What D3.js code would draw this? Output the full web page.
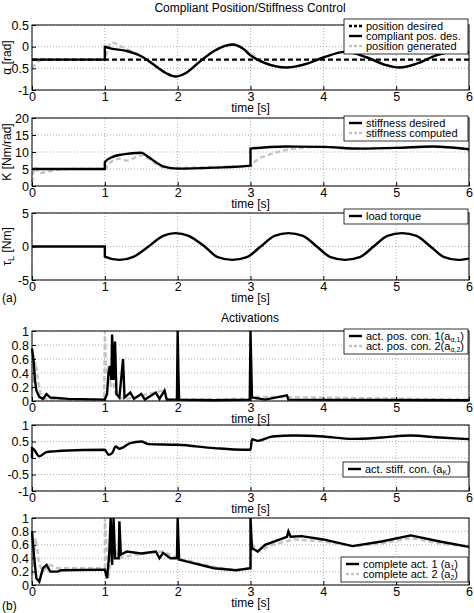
<!DOCTYPE html>
<html><head><meta charset="utf-8">
<script src="https://cdn.jsdelivr.net/npm/d3@7"></script>
<style>body{margin:0;background:#fff}text{font-family:"Liberation Sans",Arial,sans-serif}</style>
</head><body><svg id="c" width="474" height="613"></svg>
<script>
const xTicks=[0,1,2,3,4,5,6];
const posDesired=[[0,-0.3],[6,-0.3]];
const posCompliant=[[0,-0.3],[1,-0.3],[1,0],[1.05,-0.03],[1.3,-0.1],[1.5,-0.22],[1.7,-0.45],[1.85,-0.62],[1.97,-0.69],[2.1,-0.62],[2.3,-0.35],[2.5,-0.1],[2.75,0.05],[2.9,-0.05],[3,-0.2],[3.2,-0.38],[3.5,-0.48],[3.8,-0.38],[4.0,-0.25],[4.3,-0.12],[4.6,-0.25],[4.85,-0.42],[5.05,-0.48],[5.3,-0.38],[5.55,-0.2],[5.8,-0.12],[6,-0.13]];
const posGenerated=[[0,-0.5],[0.05,-0.4],[0.15,-0.3],[1,-0.3],[1.05,0.0],[1.1,0.1],[1.2,0.02],[1.5,-0.22],[1.7,-0.45],[1.85,-0.62],[1.97,-0.69],[2.1,-0.62],[2.3,-0.35],[2.5,-0.1],[2.75,0.05],[2.9,-0.05],[3,-0.15],[3.2,-0.38],[3.5,-0.48],[3.8,-0.38],[4.0,-0.25],[4.3,-0.12],[4.6,-0.25],[4.85,-0.42],[5.05,-0.48],[5.3,-0.38],[5.55,-0.2],[5.8,-0.12],[6,-0.13]];
const stiffDesired=[[0,5],[1,5],[1,7],[1.1,8.5],[1.25,9.3],[1.5,9.8],[1.6,8.5],[1.8,5.8],[2,5.1],[2.5,5.4],[3,6],[3,11],[3.5,11.6],[4,11.5],[4.5,11],[5,11.2],[5.5,11.6],[6,10.8]];
const stiffComputed=[[0,1],[0.04,5.5],[0.1,3.8],[0.3,4.6],[0.6,5],[1,5],[1.05,6.5],[1.2,8],[1.3,7.5],[1.5,9],[1.6,8],[1.8,5.5],[2,5.3],[2.5,5.6],[3,5.8],[3.05,7],[3.3,9.5],[3.6,11],[4,11.5],[4.5,11.1],[5,11.2],[5.5,11.5],[6,10.8]];
const loadTorque=[[0,0],[1,0],[1,-1.5],[1.2,-2],[1.4,-1.5],[1.6,0],[1.8,1.6],[1.97,2],[2.15,1.6],[2.37,0],[2.55,-1.6],[2.75,-2],[2.95,-1.6],[3.14,0],[3.33,1.6],[3.52,2],[3.72,1.6],[3.91,0],[4.1,-1.6],[4.3,-2],[4.5,-1.6],[4.69,0],[4.88,1.6],[5.08,2],[5.28,1.6],[5.47,0],[5.66,-1.6],[5.85,-2],[6,-1.8]];
const act1=[[0,0.75],[0.02,0.6],[0.04,0.3],[0.06,0.15],[0.1,0.06],[0.15,0.03],[0.2,0.1],[0.25,0.05],[0.5,0.03],[1,0.02],[1.03,0.1],[1.05,0.4],[1.07,0.5],[1.09,0.3],[1.1,0.95],[1.12,0.3],[1.14,0.85],[1.16,0.1],[1.2,0.05],[1.25,0.6],[1.27,0.05],[1.35,0.12],[1.4,0.03],[1.5,0.1],[1.55,0.02],[1.7,0.12],[1.75,0.03],[1.82,0.15],[1.85,0.02],[1.99,0.02],[2,1],[2.01,0.4],[2.02,0.02],[2.5,0.01],[2.99,0.02],[3,1],[3.02,0.05],[3.2,0.02],[3.5,0.08],[3.52,0.02],[6,0.01]];
const act2=[[0,0.15],[0.03,0.4],[0.05,0.55],[0.08,0.3],[0.12,0.1],[0.18,0.03],[0.5,0.02],[0.99,0.02],[1,1],[1.02,0.4],[1.05,0.5],[1.08,0.2],[1.1,0.45],[1.13,0.15],[1.18,0.05],[1.3,0.03],[1.8,0.15],[1.85,0.02],[3,0.03],[3.1,0.06],[6,0.02]];
const actStiff=[[0,0],[0,0.3],[0.03,0.25],[0.1,0.05],[0.2,0.18],[0.3,0.2],[0.4,0.22],[1,0.25],[1.05,0.1],[1.1,0.15],[1.15,0.35],[1.2,0.28],[1.35,0.45],[1.5,0.5],[1.6,0.42],[2,0.4],[2.5,0.3],[2.9,0.25],[3,0.25],[3.02,0.57],[3.1,0.52],[3.3,0.65],[3.6,0.68],[4,0.65],[4.4,0.58],[4.8,0.62],[5.2,0.68],[5.6,0.62],[6,0.57]];
const complete1=[[0,0.8],[0.03,0.4],[0.06,0.1],[0.1,0.05],[0.15,0.25],[0.2,0.3],[0.25,0.2],[0.35,0.2],[0.4,0.22],[1,0.23],[1.03,0.1],[1.06,0.45],[1.08,1],[1.1,0.3],[1.12,1],[1.14,0.4],[1.19,0.4],[1.2,0.95],[1.22,0.45],[1.3,0.5],[1.5,0.47],[1.7,0.5],[1.75,0.4],[1.8,0.48],[1.9,0.4],[1.99,0.4],[2,1],[2.02,0.38],[2.5,0.25],[2.8,0.22],[3,0.25],[3,1],[3.02,0.55],[3.1,0.5],[3.2,0.6],[3.5,0.72],[3.52,0.8],[3.55,0.72],[3.7,0.73],[4,0.68],[4.4,0.58],[4.8,0.65],[5.2,0.74],[5.6,0.65],[6,0.57]];
const complete2=[[0,0.15],[0.05,0.7],[0.1,0.3],[0.15,0.2],[0.25,0.3],[0.35,0.25],[0.5,0.25],[1,0.25],[1,1],[1.05,0.1],[1.1,0.6],[1.2,0.4],[1.4,0.45],[1.8,0.5],[2,0.4],[2.5,0.27],[2.8,0.22],[3,0.25],[3.02,0.62],[3.1,0.5],[3.3,0.6],[3.6,0.68],[4,0.65],[4.4,0.58],[4.8,0.62],[5.2,0.7],[5.6,0.62],[6,0.57]];

const svg=d3.select("#c");
const x=d3.scaleLinear().domain([0,6]).range([32,469]);
const BLACK={stroke:"#000",w:2.4,dash:null}, GRAY={stroke:"#c4c4c4",w:2.4,dash:"5,3"}, BDASH={stroke:"#000",w:2.4,dash:"5,3"};
const SMOOTH=d3.curveMonotoneX, SHARP=d3.curveLinear;

function panel(o){
  const y=d3.scaleLinear().domain(o.dom).range([o.bot,o.top]);
  const g=svg.append("g");
  xTicks.forEach(t=>g.append("line").attr("x1",x(t)).attr("x2",x(t)).attr("y1",o.top).attr("y2",o.bot).attr("stroke","#999").attr("stroke-dasharray","1,2").attr("stroke-width",0.8));
  o.ticks.forEach(t=>g.append("line").attr("x1",32).attr("x2",469).attr("y1",y(t)).attr("y2",y(t)).attr("stroke","#999").attr("stroke-dasharray","1,2").attr("stroke-width",0.8));
  const line=d3.line().x(d=>x(d[0])).y(d=>y(d[1])).curve(o.curve||SMOOTH);
  o.series.forEach(s=>g.append("path").attr("d",line(s.data)).attr("fill","none").attr("stroke",s.st.stroke).attr("stroke-width",s.st.w).attr("stroke-dasharray",s.st.dash));
  g.append("rect").attr("x",32).attr("y",o.top).attr("width",437).attr("height",o.bot-o.top).attr("fill","none").attr("stroke","#000").attr("stroke-width",1);
  const ax=g.append("g").attr("transform",`translate(0,${o.bot})`).call(d3.axisBottom(x).tickValues(xTicks).tickSize(-4).tickPadding(2).tickFormat(d3.format("d")));
  const ay=g.append("g").attr("transform","translate(32,0)").call(d3.axisLeft(y).tickValues(o.ticks).tickSize(-4).tickPadding(3).tickFormat(d=>String(d)));
  [ax,ay].forEach(a=>{a.select(".domain").remove();a.selectAll("text").attr("font-size",12.5).attr("fill","#000").style("font-family","Liberation Sans,Arial");});
  if(o.xlabel) g.append("text").attr("x",x(3)).attr("y",o.bot+22).attr("text-anchor","middle").attr("font-size",12).text("time [s]");
  if(o.ylabel) g.append("text").attr("transform",`translate(11,${(o.top+o.bot)/2}) rotate(-90)`).attr("text-anchor","middle").attr("font-size",12).html(o.ylabel);
  const lw=o.legW, lh=o.leg.length*10+5, lx=468-lw, ly=o.legY;
  g.append("rect").attr("x",lx).attr("y",ly).attr("width",lw).attr("height",lh).attr("fill","#fff").attr("stroke","#000").attr("stroke-width",0.8);
  o.leg.forEach((l,i)=>{const yy=ly+7+i*10;
    g.append("line").attr("x1",lx+5).attr("x2",lx+18).attr("y1",yy).attr("y2",yy).attr("stroke",l.st.stroke).attr("stroke-width",l.st.w).attr("stroke-dasharray",l.st.dash?"3,2":null);
    g.append("text").attr("x",lx+22).attr("y",yy+4).attr("font-size",11).html(l.t);});
}
svg.append("text").attr("x",250).attr("y",12).attr("text-anchor","middle").attr("font-size",12).text("Compliant Position/Stiffness Control");
panel({top:25,bot:90,dom:[-1,0.5],ticks:[-1,-0.5,0,0.5],xlabel:true,ylabel:"α [rad]",
  series:[{data:posGenerated,st:GRAY},{data:posCompliant,st:BLACK},{data:posDesired,st:BDASH}],
  legW:124,legY:19,leg:[{t:"position desired",st:BDASH},{t:"compliant pos. des.",st:BLACK},{t:"position generated",st:GRAY}]});
panel({top:118,bot:186,dom:[0,20],ticks:[0,5,10,15,20],xlabel:true,ylabel:"K [Nm/rad]",
  series:[{data:stiffComputed,st:GRAY},{data:stiffDesired,st:BLACK}],
  legW:124,legY:116,leg:[{t:"stiffness desired",st:BLACK},{t:"stiffness computed",st:GRAY}]});
panel({top:213,bot:280,dom:[-5,5],ticks:[-5,0,5],xlabel:true,ylabel:"τ<tspan font-size='9' dy='3'>L</tspan><tspan dy='-3'> [Nm]</tspan>",
  series:[{data:loadTorque,st:BLACK}],
  legW:124,legY:209,leg:[{t:"load torque",st:BLACK}]});
svg.append("text").attr("x",2).attr("y",302).attr("font-size",12).text("(a)");
svg.append("text").attr("x",250).attr("y",322).attr("text-anchor","middle").attr("font-size",12).text("Activations");
panel({top:331,bot:401,dom:[0,1],ticks:[0,0.2,0.4,0.6,0.8,1],xlabel:true,curve:SHARP,
  series:[{data:act2,st:GRAY},{data:act1,st:BLACK}],
  legW:124,legY:329,leg:[{t:"act. pos. con. 1(a<tspan font-size='7' dy='2'>α,1</tspan><tspan dy='-2'>)</tspan>",st:BLACK},{t:"act. pos. con. 2(a<tspan font-size='7' dy='2'>α,2</tspan><tspan dy='-2'>)</tspan>",st:GRAY}]});
panel({top:425,bot:491,dom:[-1,1],ticks:[-1,-0.5,0,0.5,1],xlabel:true,
  series:[{data:actStiff,st:BLACK}],
  legW:125,legY:462,leg:[{t:"act. stiff. con. (a<tspan font-size='7' dy='2'>K</tspan><tspan dy='-2'>)</tspan>",st:BLACK}]});
panel({top:518,bot:585,dom:[0,1],ticks:[0,0.2,0.4,0.6,0.8,1],xlabel:true,curve:SHARP,
  series:[{data:complete2,st:GRAY},{data:complete1,st:BLACK}],
  legW:127,legY:557,leg:[{t:"complete act. 1 (a<tspan font-size='7' dy='2'>1</tspan><tspan dy='-2'>)</tspan>",st:BLACK},{t:"complete act. 2 (a<tspan font-size='7' dy='2'>2</tspan><tspan dy='-2'>)</tspan>",st:GRAY}]});
svg.append("text").attr("x",2).attr("y",610).attr("font-size",12).text("(b)");
</script></body></html>
